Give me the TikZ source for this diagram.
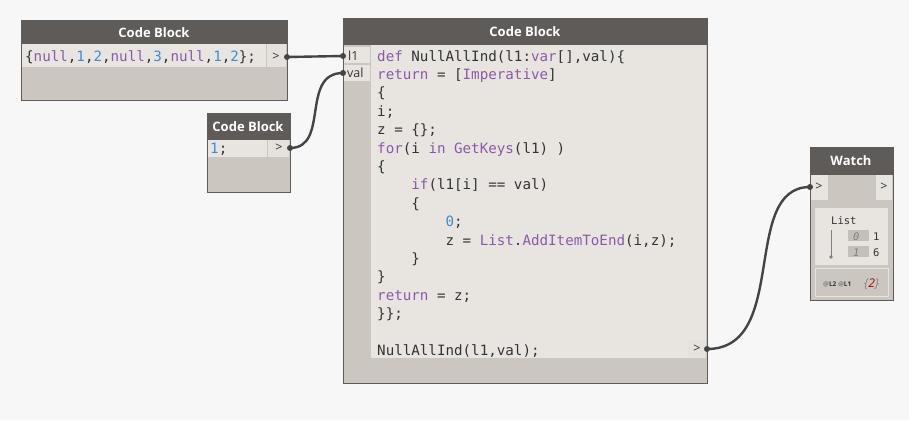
\documentclass[tikz,border=0pt]{standalone}
\usepackage{fontspec}
\setmainfont{Open Sans}
\newfontfamily\codefont{DejaVu Sans Mono}
\begin{document}
\begin{tikzpicture}[x=1pt,y=-1pt,
  hdr/.style={fill=hdrc,draw=hdrc},
  body/.style={fill=bodyc,draw=hdrc,line width=0.8pt},
  row/.style={fill=rowc,draw=none},
  ttl/.style={text=white,font=\bfseries\fontsize{13}{15}\selectfont},
  cd/.style={anchor=base west,inner sep=0,font=\codefont\fontsize{14.2}{16}\selectfont,text=codec},
  prt/.style={font=\fontsize{12.5}{13}\selectfont,text=codec,inner sep=0},
  wire/.style={draw=wirec,line width=2.4pt}]
\definecolor{hdrc}{HTML}{5E5B58}
\definecolor{bodyc}{HTML}{CBC7C0}
\definecolor{rowc}{HTML}{E8E5E1}
\definecolor{codec}{HTML}{333333}
\definecolor{kw}{HTML}{8A5AA8}
\definecolor{num}{HTML}{3A8CD8}
\definecolor{wirec}{HTML}{444444}
\definecolor{bgc}{HTML}{F7F7F7}
\fill[bgc] (0,0) rectangle (909,420);
% Block A
\draw[body] (21,20) rectangle (287,100);
\fill[hdrc] (21,20) rectangle (287,44);
\fill[rowc] (22,44) rectangle (266,67);
\fill[rowc!90!bodyc] (267,44) rectangle (286,67);
\node[ttl] (ta) at (154,33) {Code Block};
\node[cd] (ca) at (25,62) {\{\textcolor{kw}{null},\textcolor{num}{1},\textcolor{num}{2},\textcolor{kw}{null},\textcolor{num}{3},\textcolor{kw}{null},\textcolor{num}{1},\textcolor{num}{2}\};};
\node[prt] (pa) at (276,57) {>};
\coordinate (oa) at (287,57);
% Block B
\draw[body] (207,113) rectangle (290,192);
\fill[hdrc] (207,113) rectangle (290,140);
\fill[rowc] (208,140) rectangle (267,157);
\fill[rowc!90!bodyc] (268,140) rectangle (289,157);
\node[ttl] (tb) at (248,127) {Code Block};
\node[cd] (cb) at (210,153) {\textcolor{num}{1};};
\node[prt] (pb) at (279,148) {>};
\coordinate (ob) at (290,148);
% Main
\draw[body] (343,18) rectangle (707,383);
\fill[hdrc] (343,18) rectangle (707,45);
\fill[rowc] (371,45) rectangle (706,358);
\fill[rowc] (344,47) rectangle (370,63);
\fill[rowc] (344,65) rectangle (370,81);
\fill[rowc!90!bodyc] (688,340) rectangle (706,357);
\node[ttl] (tm) at (525,32) {Code Block};
\node[prt,anchor=west] (pl) at (348,56) {l1};
\node[prt,anchor=west] (pv) at (347,73) {val};
\coordinate (il) at (343,56);
\coordinate (iv) at (343,73);
\node[prt] (pm) at (697,349) {>};
\coordinate (om) at (707,349);
\foreach \i/\t in {
 0/{\textcolor{kw}{def} NullAllInd(l1:\textcolor{kw}{var}[],val)\{},
 1/{\textcolor{kw}{return} = [\textcolor{kw}{Imperative}]},
 2/{\{},
 3/{i;},
 4/{z = \{\};},
 5/{\textcolor{kw}{for}(i \textcolor{kw}{in} \textcolor{kw}{GetKeys}(l1) )},
 6/{\{},
 7/{\ \ \ \ \textcolor{kw}{if}(l1[i] == val)},
 8/{\ \ \ \ \{},
 9/{\ \ \ \ \ \ \ \ \textcolor{num}{0};},
 10/{\ \ \ \ \ \ \ \ z = \textcolor{kw}{List}.\textcolor{kw}{AddItemToEnd}(i,z);},
 11/{\ \ \ \ \}},
 12/{\}},
 13/{\textcolor{kw}{return} = z;},
 14/{\}\};},
 16/{NullAllInd(l1,val);}}
 \node[cd] (l\i) at (377,{61+\i*18.4}) {\t};
% Watch
\draw[body] (810,147) rectangle (893,300);
\fill[hdrc] (810,147) rectangle (893,175);
\fill[rowc] (811,175) rectangle (828,200);
\fill[rowc] (876,175) rectangle (892,200);
\node[ttl] (tw) at (851,161) {Watch};
\node[prt] (pw1) at (819,187) {>};
\node[prt] (pw2) at (884,187) {>};
\coordinate (iw) at (810,187);
\fill[rowc] (815,208) rectangle (888,265);
\node[cd,font=\codefont\fontsize{10.5}{11}\selectfont] (lst) at (831,224) {List};
\draw[gray,line width=0.6pt] (831,230) -- (831,257);
\fill[gray] (831,257) circle (1.8);
\fill[bodyc!90!gray] (848,230) rectangle (869,241);
\fill[bodyc!90!gray] (848,246) rectangle (869,257);
\node[cd,font=\codefont\itshape\fontsize{10.5}{11}\selectfont,text=gray] (i0) at (853,240) {0};
\node[cd,font=\codefont\itshape\fontsize{10.5}{11}\selectfont,text=gray] (i1) at (853,256) {1};
\node[cd,font=\codefont\fontsize{10.5}{11}\selectfont] (v0) at (873,240) {1};
\node[cd,font=\codefont\fontsize{10.5}{11}\selectfont] (v1) at (873,256) {6};
\draw[fill=bodyc,draw=rowc,line width=0.6pt] (815,268) rectangle (888,296);
\node[cd,font=\bfseries\fontsize{6.5}{7}\selectfont] (lv) at (823,286) {\textcolor{gray}{@}L2 \textcolor{gray}{@}L1};
\node[cd,font=\itshape\fontsize{12}{12}\selectfont,text=gray] (cnt) at (864,287) {\{\textcolor{red!70!black}{2}\}};
% wires
\draw[wire] (oa) .. controls (315,57) and (315,56) .. (il);
\draw[wire] (ob) .. controls (330,148) and (300,73) .. (iv);
\draw[wire] (om) .. controls (790,349) and (740,187) .. (iw);
\foreach \p in {oa,ob,om,il,iv,iw} \fill[wirec] (\p) circle (3);
\end{tikzpicture}
\end{document}
